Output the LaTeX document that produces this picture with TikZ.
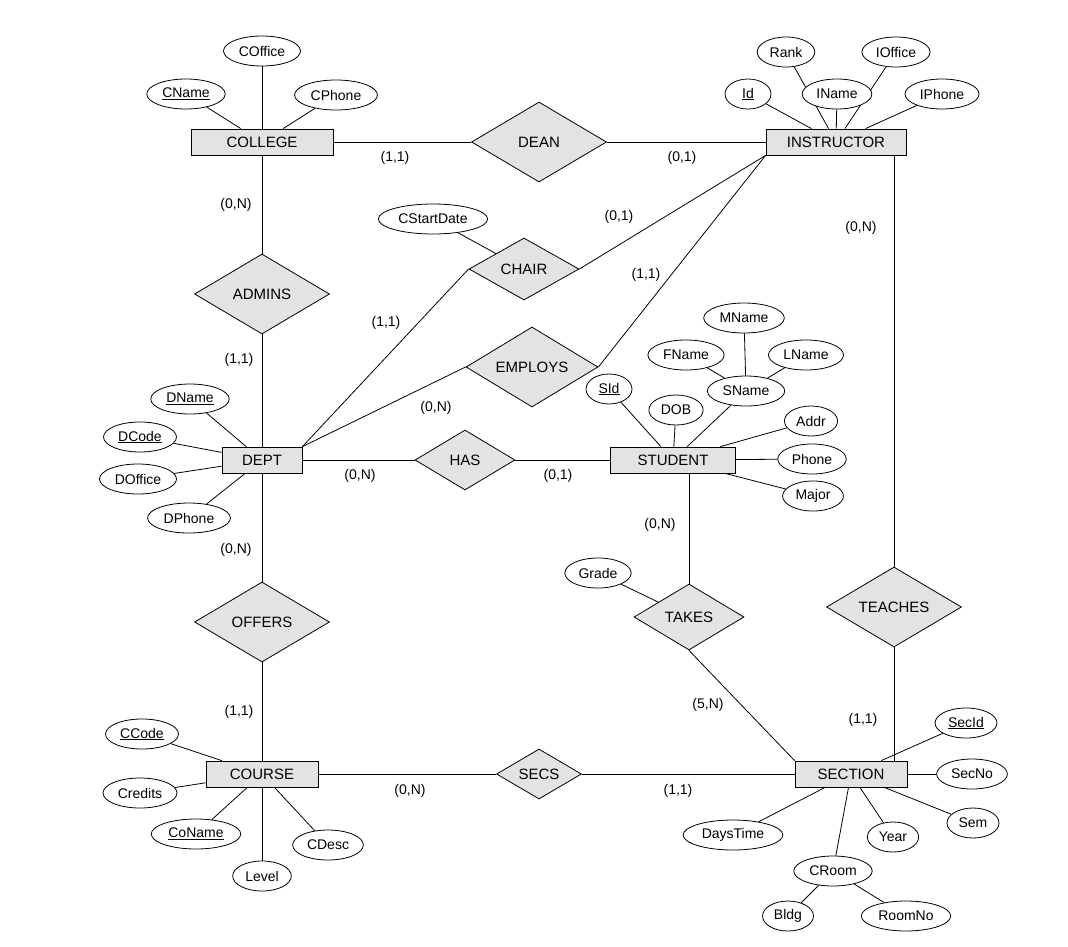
\documentclass[tikz,border=0pt]{standalone}
\usepackage{fontspec}
\setmainfont{Liberation Sans}
\usetikzlibrary{shapes.geometric}
\begin{document}
\begin{tikzpicture}[x=1pt,y=-1pt,
  ent/.style={draw,fill=gray!22,minimum height=26,inner xsep=5,font=\fontsize{15}{17}\selectfont},
  rel/.style={draw,fill=gray!22,diamond,aspect=1.7,inner sep=1,font=\fontsize{15}{17}\selectfont},
  att/.style={draw,fill=white,ellipse,inner xsep=4,inner ysep=1,minimum height=30,minimum width=46,font=\fontsize{14}{16}\selectfont},
  lab/.style={font=\fontsize{14}{16}\selectfont},
  every path/.style={line width=0.8pt}]
\useasboundingbox (0,0) rectangle (1068,946);
% entities
\node[ent,minimum width=142] (college) at (262,142) {COLLEGE};
\node[ent,minimum width=140] (instr) at (836,142) {INSTRUCTOR};
\node[ent,minimum width=80] (dept) at (262,460) {DEPT};
\node[ent,minimum width=125] (student) at (673,460) {STUDENT};
\node[ent,minimum width=112] (course) at (262,774) {COURSE};
\node[ent,minimum width=112] (section) at (851,774) {SECTION};
% relationships
\node[rel,minimum width=135,minimum height=80] (dean) at (539,142) {DEAN};
\node[rel,minimum width=110,minimum height=62] (chair) at (524,269) {CHAIR};
\node[rel,minimum width=135,minimum height=80] (admins) at (262,294) {ADMINS};
\node[rel,minimum width=132,minimum height=80] (employs) at (532,367) {EMPLOYS};
\node[rel,minimum width=100,minimum height=60] (has) at (465,460) {HAS};
\node[rel,minimum width=110,minimum height=66] (takes) at (689,617) {TAKES};
\node[rel,minimum width=135,minimum height=80] (teaches) at (894,607) {TEACHES};
\node[rel,minimum width=135,minimum height=80] (offers) at (262,622) {OFFERS};
\node[rel,minimum width=85,minimum height=50] (secs) at (539,774) {SECS};
% relationship lines
\draw (college) -- (dean) -- (instr);
\draw (college) -- (admins) -- (dept);
\draw (dept.north east) -- (chair.west);
\draw (chair.east) -- (instr.south west);
\draw (dept.north east) -- (employs.west);
\draw (employs.east) -- (instr.south west);
\draw (dept) -- (has) -- (student);
\draw (dept) -- (offers) -- (course);
\draw (student.south -| takes) -- (takes.north);
\draw (takes.south) -- (section.north west);
\draw (instr.south -| teaches) -- (teaches.north);
\draw (teaches.south) -- (section.north -| teaches);
\draw (course) -- (secs) -- (section);
% attributes
\newcommand{\attr}[4]{\node[att] (#1) at (#2) {#3}; \draw (#1) -- (#4);}
\attr{coffice}{262,51}{COffice}{college}
\attr{cname}{186,94}{\underline{CName}}{college}
\attr{cphone}{336,95}{CPhone}{college}
\attr{rank}{786,52}{Rank}{instr}
\attr{ioffice}{896,52}{IOffice}{instr}
\attr{id}{748,94}{\underline{Id}}{instr}
\attr{iname}{837,94}{IName}{instr}
\attr{iphone}{942,94}{IPhone}{instr}
\attr{cstart}{433,219}{CStartDate}{chair}
\node[att] (sname) at (746,391) {SName};
\draw (sname) -- (student);
\attr{mname}{744,318}{MName}{sname}
\attr{fname}{686,355}{FName}{sname}
\attr{lname}{806,355}{LName}{sname}
\attr{sid}{609,389}{\underline{SId}}{student}
\attr{dob}{676,410}{DOB}{student}
\attr{addr}{811,421}{Addr}{student}
\attr{phone}{812,459}{Phone}{student}
\attr{major}{813,496}{Major}{student}
\attr{dname}{190,399}{\underline{DName}}{dept}
\attr{dcode}{140,437}{\underline{DCode}}{dept}
\attr{doffice}{138,479}{DOffice}{dept}
\attr{dphone}{189,518}{DPhone}{dept}
\attr{grade}{598,573}{Grade}{takes}
\attr{ccode}{142,734}{\underline{CCode}}{course}
\attr{credits}{140,793}{Credits}{course}
\attr{coname}{196,834}{\underline{CoName}}{course}
\attr{level}{262,876}{Level}{course}
\attr{cdesc}{328,845}{CDesc}{course}
\attr{secid}{966,723}{\underline{SecId}}{section}
\attr{secno}{972,774}{SecNo}{section}
\attr{sem}{973,823}{Sem}{section}
\attr{year}{893,837}{Year}{section}
\attr{days}{733,835}{DaysTime}{section}
\node[att] (croom) at (833,871) {CRoom};
\draw (croom) -- (section);
\attr{bldg}{788,916}{Bldg}{croom}
\attr{roomno}{906,916}{RoomNo}{croom}
% cardinalities
\foreach \p/\t in {{395,158}/{(1,1)},{682,158}/{(0,1)},{236,205}/{(0,N)},{239,360}/{(1,1)},
 {619,217}/{(0,1)},{646,275}/{(1,1)},{861,228}/{(0,N)},{386,323}/{(1,1)},{436,408}/{(0,N)},
 {360,476}/{(0,N)},{558,476}/{(0,1)},{236,550}/{(0,N)},{660,525}/{(0,N)},{708,705}/{(5,N)},
 {239,712}/{(1,1)},{863,720}/{(1,1)},{410,791}/{(0,N)},{678,791}/{(1,1)}}
  \node[lab] at (\p) {\t};
\end{tikzpicture}
\end{document}
